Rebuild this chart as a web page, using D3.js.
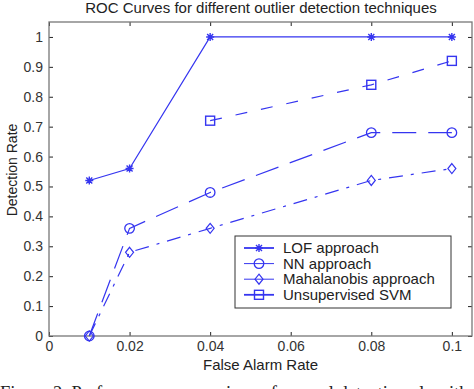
<!DOCTYPE html>
<html>
<head>
<meta charset="utf-8">
<script src="https://cdn.jsdelivr.net/npm/d3@7"></script>
<style>
body { margin: 0; background: #fff; }
svg { display: block; font-family: "Liberation Sans", Arial, sans-serif; }
</style>
</head>
<body>
<svg width="474" height="389"></svg>
<script>
// values
var falseAlarm = [0.01, 0.02, 0.04, 0.08, 0.1];
var lofRate = [0.52, 0.56, 1, 1, 1];
var nnRate = [0, 0.36, 0.48, 0.68, 0.68];
var mahalRate = [0, 0.28, 0.36, 0.52, 0.56];
var svmAlarm = [0.04, 0.08, 0.1];
var svmRate = [0.72, 0.84, 0.92];
var xTicks = [0, 0.02, 0.04, 0.06, 0.08, 0.1];
var yTicks = [0, 0.1, 0.2, 0.3, 0.4, 0.5, 0.6, 0.7, 0.8, 0.9, 1];

var series = [
    { name: "LOF approach", xs: falseAlarm, ys: lofRate, dash: null, marker: "star" },
    { name: "NN approach", xs: falseAlarm, ys: nnRate, dash: "24,12", marker: "circle" },
    { name: "Mahalanobis approach", xs: falseAlarm, ys: mahalRate, dash: "14,8,3,8", marker: "diamond" },
    { name: "Unsupervised SVM", xs: svmAlarm, ys: svmRate, dash: "12,14", marker: "square" }
];

var svg = d3.select("svg"),
    plotLeft = 49, plotRight = 472, plotTop = 22, plotBottom = 336,
    blue = "#3535f0";

var x = d3.scaleLinear().domain([0, 0.105]).range([plotLeft, plotRight]);
var y = d3.scaleLinear().domain([0, 1.05]).range([plotBottom, plotTop]);

// title
svg.append("text")
    .attr("x", 261).attr("y", 13)
    .attr("text-anchor", "middle")
    .attr("font-size", "15px")
    .attr("fill", "#222")
    .text("ROC Curves for different outlier detection techniques");

// axes
var fmt = function (d) { return String(d); };
svg.append("g")
    .attr("transform", "translate(0," + plotBottom + ")")
    .call(d3.axisBottom(x).tickValues(xTicks).tickSize(-4).tickPadding(5).tickFormat(fmt))
    .call(function (g) { g.select(".domain").remove(); });
svg.append("g")
    .attr("transform", "translate(0," + plotTop + ")")
    .call(d3.axisTop(x).tickValues(xTicks).tickSize(-4).tickFormat(""))
    .call(function (g) { g.select(".domain").remove(); });
svg.append("g")
    .attr("transform", "translate(" + plotLeft + ",0)")
    .call(d3.axisLeft(y).tickValues(yTicks).tickSize(-4).tickPadding(6).tickFormat(fmt))
    .call(function (g) { g.select(".domain").remove(); });
svg.append("g")
    .attr("transform", "translate(" + plotRight + ",0)")
    .call(d3.axisRight(y).tickValues(yTicks).tickSize(-4).tickFormat(""))
    .call(function (g) { g.select(".domain").remove(); });

svg.selectAll(".tick text").attr("font-size", "14px").attr("fill", "#333").attr("font-family", null);
svg.selectAll(".tick line").attr("stroke", "#222");

svg.append("rect")
    .attr("x", plotLeft).attr("y", plotTop)
    .attr("width", plotRight - plotLeft).attr("height", plotBottom - plotTop)
    .attr("fill", "none").attr("stroke", "#777").attr("stroke-width", 1.3);

// axis titles
svg.append("text")
    .attr("x", x(0.0525)).attr("y", 370)
    .attr("text-anchor", "middle")
    .attr("font-size", "15px").attr("fill", "#222")
    .text("False Alarm Rate");
svg.append("text")
    .attr("transform", "translate(17,170) rotate(-90)")
    .attr("text-anchor", "middle")
    .attr("font-size", "14px").attr("fill", "#222")
    .text("Detection Rate");

// caption, cut off by the window
svg.append("text")
    .attr("x", 0).attr("y", 399)
    .attr("font-family", "'Liberation Serif', 'Times New Roman', serif")
    .attr("font-size", "18.5px").attr("fill", "#222")
    .text("Figure 2. Performance comparison of several detection algorithms");

function drawMarker(g, type, cx, cy) {
    if (type === "star") {
        g.append("path")
            .attr("d", "M" + (cx - 4) + "," + cy + "h8M" + cx + "," + (cy - 4) + "v8M" + (cx - 3) + "," + (cy - 3) + "l6,6M" + (cx + 3) + "," + (cy - 3) + "l-6,6")
            .attr("stroke", blue).attr("stroke-width", 1.4).attr("fill", "none");
    } else if (type === "circle") {
        g.append("circle").attr("cx", cx).attr("cy", cy).attr("r", 4.8)
            .attr("fill", "none").attr("stroke", blue).attr("stroke-width", 1.3);
    } else if (type === "diamond") {
        g.append("path")
            .attr("d", "M" + cx + "," + (cy - 5) + "L" + (cx + 4) + "," + cy + "L" + cx + "," + (cy + 5) + "L" + (cx - 4) + "," + cy + "Z")
            .attr("fill", "none").attr("stroke", blue).attr("stroke-width", 1.2);
    } else {
        g.append("rect").attr("x", cx - 4.5).attr("y", cy - 4.5).attr("width", 9).attr("height", 9)
            .attr("fill", "none").attr("stroke", blue).attr("stroke-width", 1.4);
    }
}

var line = d3.line().x(function (d) { return x(d[0]); }).y(function (d) { return y(d[1]); });

series.forEach(function (s) {
    var pts = s.xs.map(function (v, i) { return [v, s.ys[i]]; });
    var g = svg.append("g");
    g.append("path")
        .attr("d", line(pts))
        .attr("fill", "none").attr("stroke", blue).attr("stroke-width", 1.2)
        .attr("stroke-dasharray", s.dash);
    pts.forEach(function (p) { drawMarker(g, s.marker, x(p[0]), y(p[1])); });
});

// legend
var lg = svg.append("g");
lg.append("rect")
    .attr("x", 235).attr("y", 236).attr("width", 216).attr("height", 72)
    .attr("fill", "#fff").attr("stroke", "#333").attr("stroke-width", 1);
series.forEach(function (s, i) {
    var ly = 248 + i * 15.6;
    lg.append("line")
        .attr("x1", 244).attr("x2", 274).attr("y1", ly).attr("y2", ly)
        .attr("stroke", blue).attr("stroke-width", s.marker === "circle" || s.marker === "diamond" ? 1 : 1.8);
    drawMarker(lg, s.marker, 259, ly);
    lg.append("text")
        .attr("x", 283).attr("y", ly + 5)
        .attr("font-size", "15px").attr("fill", "#222")
        .text(s.name);
});
</script>
</body>
</html>
